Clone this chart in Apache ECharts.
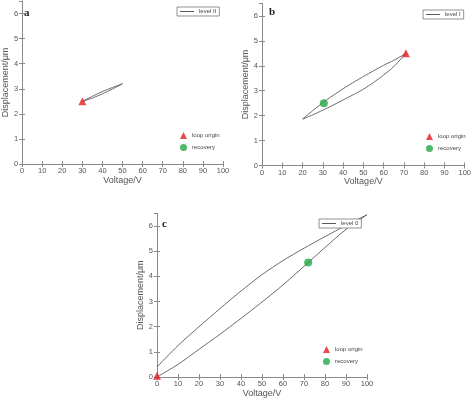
<!DOCTYPE html>
<html><head><meta charset="utf-8">
<script src="https://cdn.jsdelivr.net/npm/echarts@6/dist/echarts.min.js"></script>
<style>html,body{margin:0;padding:0;background:#fff}#c{width:474px;height:399px}</style>
</head><body><div id="c"></div>
<script>
// ---- data ----
const xTicks = [0,10,20,30,40,50,60,70,80,90,100];
const yTicks = [0,1,2,3,4,5,6];
// panel a (level II)
const aUpV = [30, 35, 40, 45, 50];
const aUpD = [2.5, 2.7, 2.89, 3.05, 3.2];
const aLoV = [30, 35, 40, 45, 50];
const aLoD = [2.5, 2.63, 2.8, 2.99, 3.2];
const aOrigin = [30, 2.5];
// panel b (level I)
const bUpV = [20, 25, 30, 35, 40, 45, 50, 55, 60, 65, 71];
const bUpD = [1.86, 2.2, 2.52, 2.81, 3.08, 3.33, 3.57, 3.8, 4.02, 4.22, 4.5];
const bLoV = [20, 25, 30, 35, 40, 45, 50, 55, 60, 65, 71];
const bLoD = [1.86, 2.03, 2.22, 2.42, 2.63, 2.84, 3.06, 3.33, 3.63, 3.97, 4.5];
const bOrigin = [71, 4.5];
const bRecovery = [30.5, 2.5];
// panel c (level 0)
const cUpV = [0,10,20,30,40,50,60,70,80,90,100];
const cUpD = [0.4,1.25,2.0,2.72,3.42,4.07,4.63,5.12,5.58,6.03,6.45];
const cLoV = [0,10,20,30,40,50,60,70,80,90,100];
const cLoD = [0,0.5,1.1,1.7,2.33,2.98,3.66,4.4,5.15,5.87,6.45];
const cOrigin = [0, 0.05];
const cRecovery = [72, 4.55];

const FONT = 'Arial, "Liberation Sans", sans-serif';
const zip = (v, d) => v.map((x, i) => [x, d[i]]);
const AX = '#8a8a8a', LBL = '#555', LINE = '#5a5a5a', RED = '#e31b23', GREEN = '#22a846';
const grids = [
  {left: 16, top: 1, width: 207, height: 163},
  {left: 262, top: 3.5, width: 208, height: 162},
  {left: 157, top: 213.5, width: 210, height: 165}
];
const xAxes = [], yAxes = [];
grids.forEach((g, i) => {
  const common = {type: 'value', gridIndex: i, splitLine: {show: false},
    axisLine: {show: true, lineStyle: {color: AX, width: 1}},
    axisTick: {show: true, inside: true, length: 3, lineStyle: {color: AX}}};
  xAxes.push(Object.assign({}, common, {position: 'bottom', min: 0, max: 100, interval: 10,
    name: 'Voltage/V', nameLocation: 'middle', nameGap: 12,
    nameTextStyle: {fontSize: 9, color: LBL, fontFamily: FONT},
    axisLabel: {fontSize: 7.5, color: LBL, margin: 3, fontFamily: FONT,
      formatter: v => xTicks.includes(v) ? String(v) : ''}}));
  xAxes.push(Object.assign({}, common, {position: 'top', min: 0, max: 100, interval: 10, axisLabel: {show: false}}));
  yAxes.push(Object.assign({}, common, {position: 'left', min: 0, max: 6.5, interval: 1,
    name: 'Displacement/\u03bcm', nameLocation: 'middle', nameGap: 10,
    nameTextStyle: {fontSize: 9, color: LBL, fontFamily: FONT},
    axisLabel: {fontSize: 7.5, color: LBL, margin: 4, fontFamily: FONT, showMaxLabel: false,
      formatter: v => yTicks.includes(v) ? String(v) : ''}}));
  yAxes.push(Object.assign({}, common, {position: 'right', min: 0, max: 6.5, interval: 1, axisLabel: {show: false}}));
});
const lineS = (name, gi, data) => ({type: 'line', name, xAxisIndex: gi*2, yAxisIndex: gi*2, data,
  showSymbol: false, symbol: 'none', smooth: 0.25,
  lineStyle: {color: LINE, width: 0.9}, itemStyle: {color: LINE}, animation: false, z: 2});
const ptS = (name, gi, pts, sym, col, size) => ({type: 'scatter', name, xAxisIndex: gi*2, yAxisIndex: gi*2,
  data: pts, symbol: sym, symbolSize: size, itemStyle: {color: col}, animation: false, z: 5});
const series = [
  lineS('level II', 0, zip(aUpV, aUpD)), lineS('level II', 0, zip(aLoV, aLoD)),
  ptS('loop origin', 0, [aOrigin], 'triangle', RED, 8), ptS('recovery', 0, [], 'circle', GREEN, 8),
  lineS('level I', 1, zip(bUpV, bUpD)), lineS('level I', 1, zip(bLoV, bLoD)),
  ptS('loop origin', 1, [bOrigin], 'triangle', RED, 8), ptS('recovery', 1, [bRecovery], 'circle', GREEN, 8),
  lineS('level 0', 2, zip(cUpV, cUpD)), lineS('level 0', 2, zip(cLoV, cLoD)),
  ptS('loop origin', 2, [cOrigin], 'triangle', RED, 8), ptS('recovery', 2, [cRecovery], 'circle', GREEN, 8)
];
const lvlLegend = (name, left, top) => ({data: [{name, icon: 'rect'}], left, top, orient: 'vertical', selectedMode: false,
  itemWidth: 14, itemHeight: 1, itemGap: 2, padding: [1.5, 3, 1.5, 3], borderColor: '#777', borderWidth: 0.8,
  backgroundColor: '#fff', textStyle: {fontSize: 6, color: '#444', fontFamily: FONT}});
const mkLegend = (left, top) => ({data: [{name: 'loop origin', icon: 'triangle'}, {name: 'recovery', icon: 'circle'}],
  left, top, orient: 'vertical', selectedMode: false, itemWidth: 7, itemHeight: 7, itemGap: 5, padding: 0,
  textStyle: {fontSize: 6, color: '#444', fontFamily: FONT}});
const panelText = (t, x, y) => ({type: 'text', left: x, top: y, z: 10,
  style: {text: t, font: 'bold 11px "Liberation Serif", serif', fill: '#222'}});
const chart = echarts.init(document.getElementById('c'), null, {renderer: 'canvas'});
chart.setOption({
  animation: false,
  grid: grids,
  xAxis: xAxes, yAxis: yAxes,
  legend: [
    lvlLegend('level II', 177, 7), lvlLegend('level I', 423, 10), lvlLegend('level 0', 319, 219),
    mkLegend(180, 132), mkLegend(426, 133), mkLegend(323, 346)
  ],
  graphic: [panelText('a', 24, 8), panelText('b', 269, 7), panelText('c', 162, 219)],
  series
});
</script></body></html>
